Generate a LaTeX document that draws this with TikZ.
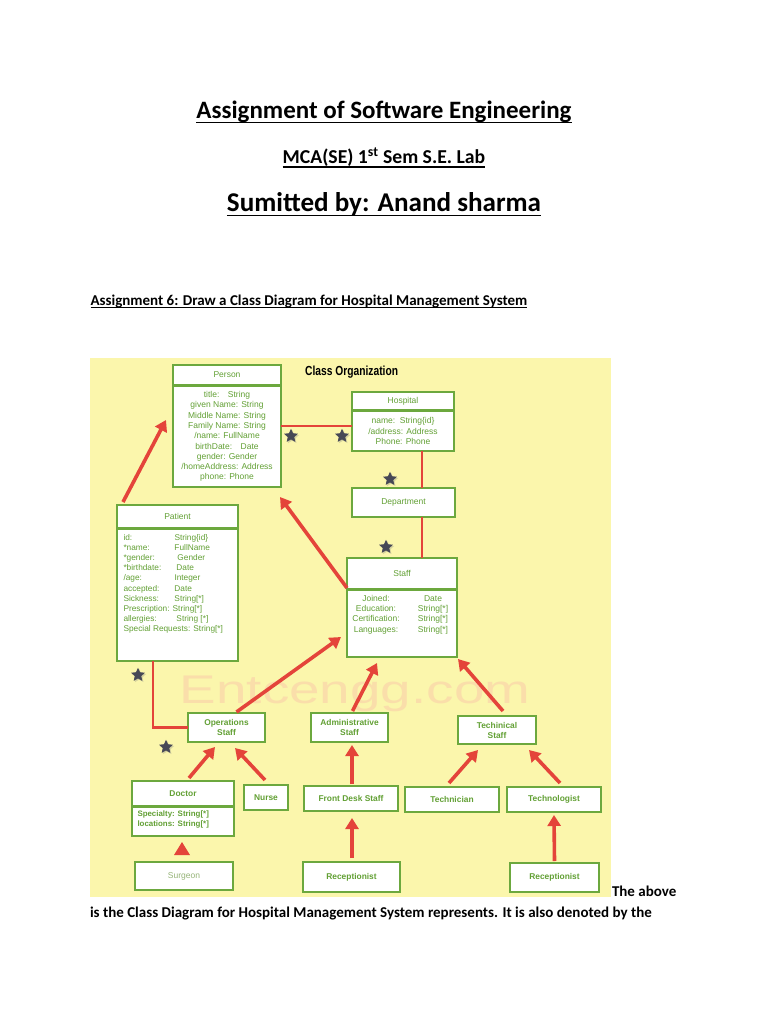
\documentclass[tikz,border=0pt]{standalone}
\usepackage{fontspec}
\setmainfont{Carlito}
\newfontfamily\arial{Liberation Sans}
\usetikzlibrary{arrows.meta,shapes.geometric,calc,shadows}
\definecolor{bgyellow}{RGB}{251,246,172}
\definecolor{boxgreen}{RGB}{108,168,62}
\definecolor{txtgreen}{RGB}{98,160,52}
\definecolor{surgtxt}{RGB}{150,180,120}
\definecolor{arrred}{RGB}{228,68,58}
\definecolor{starcol}{RGB}{70,72,86}
\definecolor{wmark}{RGB}{250,222,170}
\tikzset{
  doctext/.style={inner sep=0pt, outer sep=0pt, text=black},
  umlbox/.style={draw=boxgreen, line width=1.6pt, fill=white, inner sep=1pt, outer sep=0pt,
     text=txtgreen, font=\arial\fontsize{8.5}{10.3}\selectfont, align=center,
     drop shadow={shadow xshift=1.2pt, shadow yshift=-1.4pt, opacity=0.3, fill=black!60}},
  boldbox/.style={umlbox, font=\arial\bfseries\fontsize{8.4}{10}\selectfont},
  bodytext/.style={inner sep=0pt, outer sep=0pt, text=txtgreen, align=left},
  genarrow/.style={draw=arrred, line width=3.6pt, -{Triangle[length=11pt,width=13pt]}},
  assoc/.style={draw=arrred, line width=2.4pt},
  starmark/.style={star, star points=5, star point ratio=2.1, minimum size=14.5pt, inner sep=0pt,
     fill=starcol, drop shadow={shadow xshift=1.2pt, shadow yshift=-1.2pt, opacity=0.3}}
}
\begin{document}
\begin{tikzpicture}[x=1pt,y=-1pt]
\useasboundingbox (0,0) rectangle (768,1024);
\fill[white] (0,0) rectangle (768,1024);

% ---------- document headings ----------
\node[doctext, anchor=base, font=\fontsize{25}{29}\selectfont\bfseries] (title) at (384,119) {Assignment of Software Engineering};
\draw[line width=1.3pt] ($(title.base west)+(0,3.5)$) -- ($(title.base east)+(0,3.5)$);
\node[doctext, anchor=base, font=\fontsize{19.7}{22}\selectfont\bfseries] (mca) at (384,164) {MCA(SE) 1\textsuperscript{st} Sem S.E. Lab};
\draw[line width=1.1pt] ($(mca.base west)+(0,3)$) -- ($(mca.base east)+(0,3)$);
\node[doctext, anchor=base, font=\fontsize{27.1}{31}\selectfont\bfseries] (sub) at (384,211.5) {Sumitted by: Anand sharma};
\draw[line width=1.4pt] ($(sub.base west)+(0,4)$) -- ($(sub.base east)+(0,4)$);
\node[doctext, anchor=base west, font=\fontsize{15}{17}\selectfont\bfseries] (asg) at (90.5,305) {Assignment 6: Draw a Class Diagram for Hospital Management System};
\draw[line width=0.9pt] ($(asg.base west)+(0,2.5)$) -- ($(asg.base east)+(0,2.5)$);

% ---------- diagram picture ----------
\fill[bgyellow] (90,358) rectangle (611,897);
\node[inner sep=0pt, anchor=base, text=wmark, font=\arial\fontsize{40}{40}\selectfont] (wm) at (355,703) {\scalebox{1.37}[1]{Entcengg.com}};
\node[inner sep=0pt, anchor=base west, font=\arial\bfseries\fontsize{12.5}{13}\selectfont] (co) at (305,375) {\scalebox{0.82}[1.05]{Class Organization}};

% Person
\node[umlbox, minimum width=108pt, minimum height=20pt] (personH) at (227,375) {Person};
\node[umlbox, minimum width=108pt, minimum height=101pt] (personB) at (227,436.5)
  {title:\quad String\\ given Name: String\\ Middle Name: String\\ Family Name: String\\ /name: FullName\\ birthDate:\quad Date\\ gender: Gender\\ /homeAddress: Address\\ phone: Phone};
% Hospital
\node[umlbox, minimum width=102pt, minimum height=18pt] (hospH) at (403,401) {Hospital};
\node[umlbox, minimum width=102pt, minimum height=40pt] (hospB) at (403,431)
  {name:\, String\{id\}\\ /address: Address\\ Phone: Phone};
% Department
\node[umlbox, minimum width=103pt, minimum height=29pt] (dept) at (403.5,502.5) {Department};
% Staff
\node[umlbox, minimum width=110pt, minimum height=31pt] (staffH) at (402,573.5) {Staff};
\node[umlbox, minimum width=110pt, minimum height=67pt] (staffB) at (402,623.5) {};
\node[bodytext, anchor=north west, font=\arial\fontsize{8.5}{10.3}\selectfont] (staffT) at ($(staffB.north west)+(5,5)$)
  {\makebox[48pt][c]{Joined:}\hspace{15pt}\makebox[36pt][c]{Date}\\
   \makebox[48pt][c]{Education:}\hspace{15pt}\makebox[36pt][c]{String[*]}\\
   \makebox[48pt][c]{Certification:}\hspace{15pt}\makebox[36pt][c]{String[*]}\\
   \makebox[48pt][c]{Languages:}\hspace{15pt}\makebox[36pt][c]{String[*]}};
% Patient
\node[umlbox, minimum width=121pt, minimum height=23pt] (patH) at (177.5,516.5) {Patient};
\node[umlbox, minimum width=121pt, minimum height=132pt] (patB) at (177.5,595) {};
\node[bodytext, anchor=north west, font=\arial\fontsize{8.3}{10.2}\selectfont] (patT) at ($(patB.north west)+(6.5,5)$)
  {\makebox[51pt][l]{id:}String\{id\}\\
   \makebox[51pt][l]{*name:}FullName\\
   \makebox[51pt][l]{*gender:}\hspace{3pt}Gender\\
   \makebox[51pt][l]{*birthdate:}\hspace{2pt}Date\\
   \makebox[51pt][l]{/age:}Integer\\
   \makebox[51pt][l]{accepted:}Date\\
   \makebox[51pt][l]{Sickness:}String[*]\\
   Prescription: String[*]\\
   \makebox[51pt][l]{allergies:}\hspace{2pt}String [*]\\
   Special Requests: String[*]};
% Operations staff etc.
\node[boldbox, minimum width=77pt, minimum height=29pt] (ops) at (226.5,727.5) {Operations\\Staff};
\node[boldbox, minimum width=77pt, minimum height=29pt] (admin) at (349.5,727.5) {Administrative\\Staff};
\node[boldbox, minimum width=78pt, minimum height=28pt] (tech) at (497,730) {Techinical\\Staff};
% Doctor
\node[boldbox, minimum width=102pt, minimum height=25pt] (docH) at (183,793.5) {Doctor};
\node[umlbox, minimum width=102pt, minimum height=29pt] (docB) at (183,821.5) {};
\node[bodytext, anchor=north west, font=\arial\bfseries\fontsize{7.9}{9.5}\selectfont] (docT) at ($(docB.north west)+(5.5,4)$)
  {Specialty: String[*]\\ locations: String[*]};
\node[boldbox, minimum width=44pt, minimum height=25pt] (nurse) at (266,797.5) {Nurse};
\node[umlbox, minimum width=98pt, minimum height=28pt, text=surgtxt] (surgeon) at (184,876) {Surgeon};
\node[boldbox, minimum width=94pt, minimum height=25pt] (front) at (351,798.5) {Front Desk Staff};
\node[boldbox, minimum width=97pt, minimum height=30pt] (rec1) at (351.5,877) {Receptionist};
\node[boldbox, minimum width=94pt, minimum height=25pt] (technician) at (452,799.5) {Technician};
\node[boldbox, minimum width=94pt, minimum height=25pt] (technologist) at (554,799.5) {Technologist};
\node[boldbox, minimum width=89pt, minimum height=29pt] (rec2) at (554.5,877.5) {Receptionist};

% associations
\draw[assoc] ($(personB.east)+(0,-10.5)$) -- ($(hospB.west)+(0,-5)$);
\draw[assoc] ($(hospB.south)+(19,0)$) -- ($(dept.north)+(18.5,0)$);
\draw[assoc] ($(dept.south)+(18.5,0)$) -- ($(staffH.north)+(20,0)$);
\draw[assoc] ($(patB.south)+(-24.5,0)$) |- (ops.west);

% stars
\node[starmark] (s1) at (291,436) {};
\node[starmark] (s2) at (342,436) {};
\node[starmark] (s3) at (390,479) {};
\node[starmark] (s4) at (386,547) {};
\node[starmark] (s5) at (138,675) {};
\node[starmark] (s6) at (166,747) {};

% generalisation arrows
\draw[genarrow] ($(patH.north west)+(6,-3)$) -- ($(personB.west)+(-7,-16.5)$);
\draw[genarrow] ($(staffH.south west)+(0,-1)$) -- ($(personB.south east)+(-1,10)$);
\draw[genarrow] ($(ops.north)+(10,-1)$) -- ($(staffB.west)+(-6,13.5)$);
\draw[genarrow] ($(admin.north)+(3,-2)$) -- ($(staffB.south)+(-25,6)$);
\draw[genarrow] ($(tech.north)+(6,-5)$) -- ($(staffB.south east)+(1,2)$);
\draw[genarrow] ($(docH.north)+(6,-3)$) -- ($(ops.south)+(-11.5,5)$);
\draw[genarrow] ($(nurse.north)+(-1,-5)$) -- ($(ops.south)+(8.5,6)$);
\draw[genarrow] ($(front.north)+(1,-2)$) -- ($(admin.south)+(2.5,3)$);
\draw[genarrow] ($(rec1.north)+(0.5,-4)$) -- ($(front.south)+(1,7)$);
\draw[genarrow] ($(technician.north)+(-3,-4)$) -- ($(tech.south)+(-19,6)$);
\draw[genarrow] ($(technologist.north)+(6,-4)$) -- ($(tech.south)+(32,6)$);
\draw[genarrow] ($(rec2.north)+(0,-2)$) -- ($(technologist.south)+(0,3)$);
\fill[arrred] ($(docB.south)+(-1,6)$) -- ($(docB.south)+(-9,19)$) -- ($(docB.south)+(7,19)$) -- cycle;

% ---------- text after picture ----------
\node[doctext, anchor=base west, font=\fontsize{15}{17}\selectfont\bfseries] (above) at (612,896) {The above};
\node[doctext, anchor=base west, font=\fontsize{15}{17}\selectfont\bfseries] (para) at (90,917) {is the Class Diagram for Hospital Management System represents. It is also denoted by the};
\end{tikzpicture}
\end{document}
